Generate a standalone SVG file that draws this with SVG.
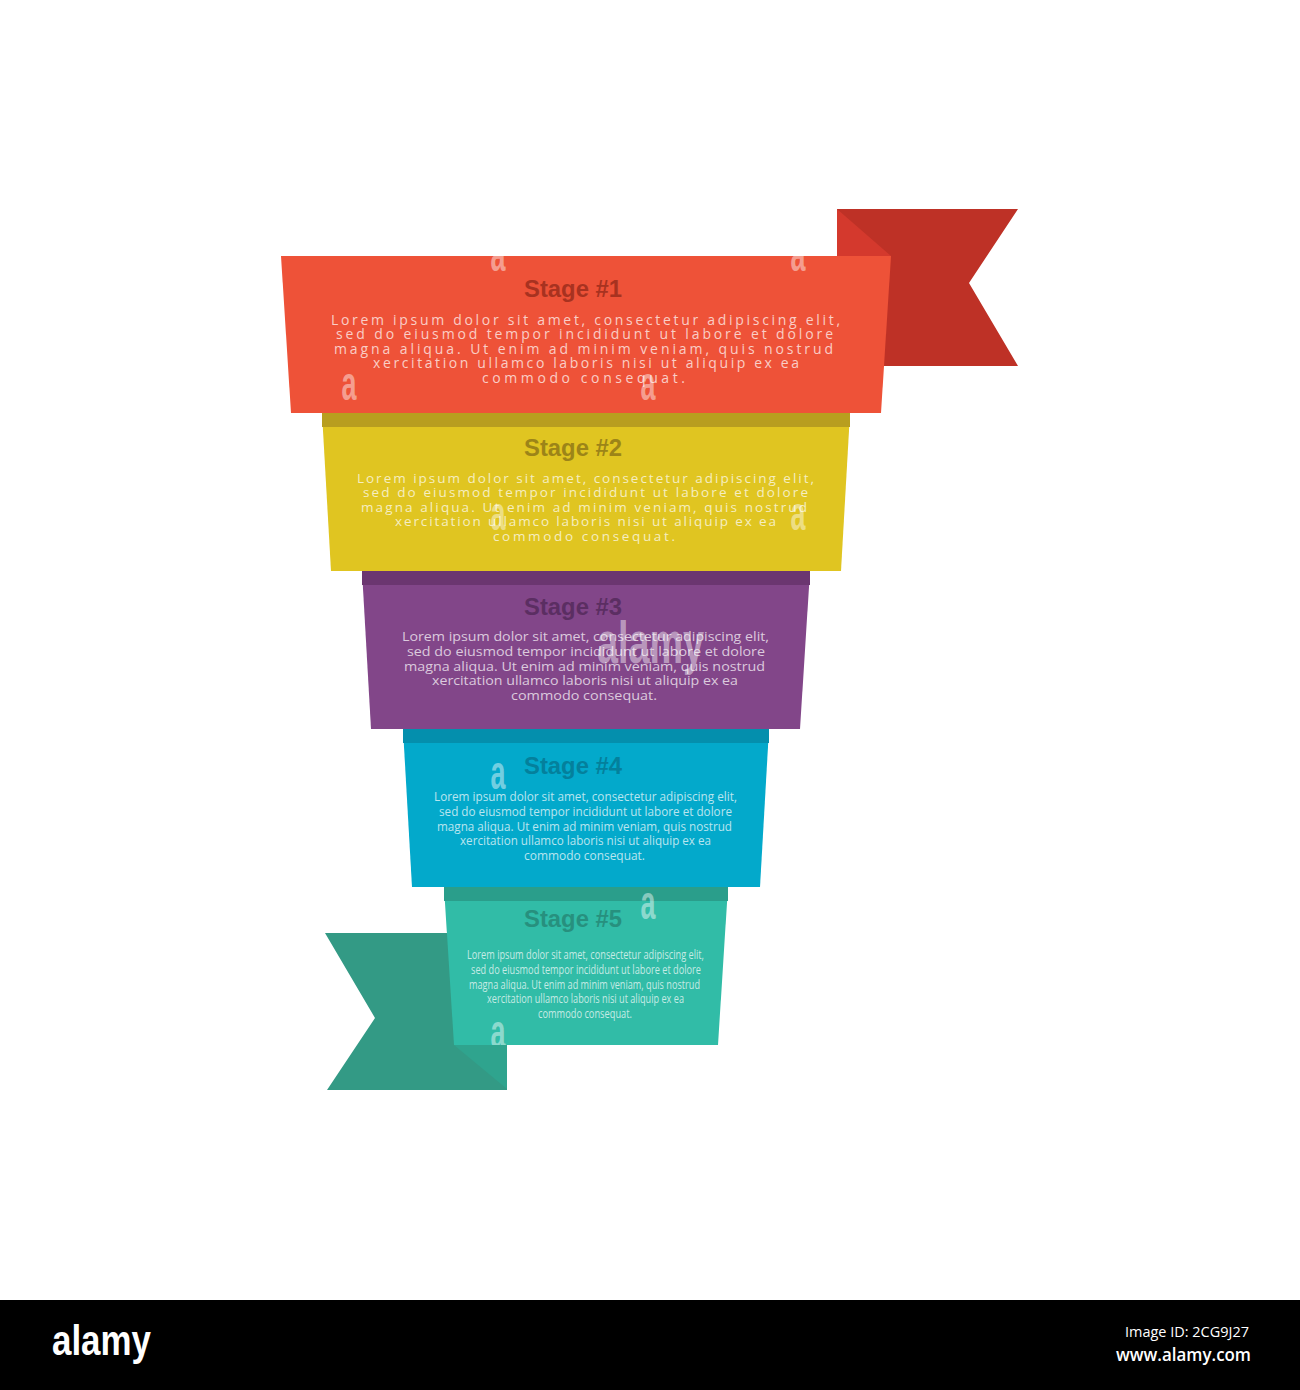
<svg xmlns="http://www.w3.org/2000/svg" width="1300" height="1390" viewBox="0 0 1300 1390">
<style>
.title{font-family:"Liberation Sans",Arial,sans-serif;font-weight:bold;font-size:23px;text-anchor:middle}
.body{font-family:"Open Sans","Noto Sans",sans-serif;text-anchor:middle;fill:#ffffff;fill-opacity:0.72}
.wm{font-family:"Liberation Sans Narrow","Liberation Sans",Arial,sans-serif;font-weight:bold;fill:#ffffff;fill-opacity:0.45;text-anchor:middle}
</style>
<rect x="0" y="0" width="1300" height="1390" fill="#ffffff"/>

<g id="flag-top">
<polygon points="837,209 1018,209 969,283 1018,366 870,366 870,256 837,256" fill="#BE3126"/>
<polygon points="837,209 891,256 837,256" fill="#D4392D"/>
</g>
<g id="flag-bottom">
<polygon points="325,933 470,933 470,1045 507,1045 507,1090 327,1090 375,1018" fill="#339A85"/>
<polygon points="454,1045 507,1045 507,1089" fill="#2FA48E"/>
</g>

<g id="connectors"></g>

<g id="stage5" font-size="12">
<polygon points="444,887 728,887 718,1045 454,1045" fill="#31BCA7"/>
<rect x="444" y="887" width="284" height="14" fill="#2A9E8B"/>
<text class="title" x="573" y="927" fill="#27907E" textLength="98" lengthAdjust="spacingAndGlyphs">Stage #5</text>
<text class="body" x="585.5" y="959" textLength="237" lengthAdjust="spacingAndGlyphs">Lorem ipsum dolor sit amet, consectetur adipiscing elit,</text>
<text class="body" x="586" y="974" textLength="230" lengthAdjust="spacingAndGlyphs">sed do eiusmod tempor incididunt ut labore et dolore</text>
<text class="body" x="584.5" y="989" textLength="231" lengthAdjust="spacingAndGlyphs">magna aliqua. Ut enim ad minim veniam, quis nostrud</text>
<text class="body" x="585.5" y="1003" textLength="197" lengthAdjust="spacingAndGlyphs">xercitation ullamco laboris nisi ut aliquip ex ea</text>
<text class="body" x="585" y="1018" textLength="94" lengthAdjust="spacingAndGlyphs">commodo consequat.</text>
</g>

<g id="stage4" font-size="12.5">
<polygon points="403,729 769,729 760,887 412,887" fill="#03A9CB"/>
<rect x="403" y="729" width="366" height="14" fill="#048FAD"/>
<text class="title" x="573" y="774" fill="#04809C" textLength="98" lengthAdjust="spacingAndGlyphs">Stage #4</text>
<text class="body" x="585.5" y="801" textLength="303" lengthAdjust="spacingAndGlyphs">Lorem ipsum dolor sit amet, consectetur adipiscing elit,</text>
<text class="body" x="585.5" y="816" textLength="293" lengthAdjust="spacingAndGlyphs">sed do eiusmod tempor incididunt ut labore et dolore</text>
<text class="body" x="584.5" y="831" textLength="295" lengthAdjust="spacingAndGlyphs">magna aliqua. Ut enim ad minim veniam, quis nostrud</text>
<text class="body" x="585.5" y="845" textLength="251" lengthAdjust="spacingAndGlyphs">xercitation ullamco laboris nisi ut aliquip ex ea</text>
<text class="body" x="584.5" y="860" textLength="121" lengthAdjust="spacingAndGlyphs">commodo consequat.</text>
</g>

<g id="stage3" font-size="13">
<polygon points="362,571 810,571 800,729 371,729" fill="#824689"/>
<rect x="362" y="571" width="448" height="14" fill="#6B3670"/>
<text class="title" x="573" y="615" fill="#5B2E62" textLength="98" lengthAdjust="spacingAndGlyphs">Stage #3</text>
<text class="body" x="585.5" y="641" textLength="367" lengthAdjust="spacingAndGlyphs">Lorem ipsum dolor sit amet, consectetur adipiscing elit,</text>
<text class="body" x="586" y="656" textLength="358" lengthAdjust="spacingAndGlyphs">sed do eiusmod tempor incididunt ut labore et dolore</text>
<text class="body" x="584.5" y="671" textLength="361" lengthAdjust="spacingAndGlyphs">magna aliqua. Ut enim ad minim veniam, quis nostrud</text>
<text class="body" x="585" y="685" textLength="306" lengthAdjust="spacingAndGlyphs">xercitation ullamco laboris nisi ut aliquip ex ea</text>
<text class="body" x="584" y="700" textLength="146" lengthAdjust="spacingAndGlyphs">commodo consequat.</text>
</g>

<g id="stage2" font-size="13.5">
<polygon points="322,413 850,413 841,571 331,571" fill="#E0C521"/>
<rect x="322" y="413" width="528" height="14" fill="#B89E1F"/>
<text class="title" x="573" y="456" fill="#9C8418" textLength="98" lengthAdjust="spacingAndGlyphs">Stage #2</text>
<text class="body" x="585.5" y="483" textLength="457" lengthAdjust="spacing">Lorem ipsum dolor sit amet, consectetur adipiscing elit,</text>
<text class="body" x="585.5" y="497" textLength="445" lengthAdjust="spacing">sed do eiusmod tempor incididunt ut labore et dolore</text>
<text class="body" x="584" y="512" textLength="446" lengthAdjust="spacing">magna aliqua. Ut enim ad minim veniam, quis nostrud</text>
<text class="body" x="585.5" y="526" textLength="381" lengthAdjust="spacing">xercitation ullamco laboris nisi ut aliquip ex ea</text>
<text class="body" x="584" y="541" textLength="182" lengthAdjust="spacing">commodo consequat.</text>
</g>

<g id="stage1" font-size="14">
<polygon points="281,256 891,256 881,413 291,413" fill="#EE5238"/>
<text class="title" x="573" y="297" fill="#A83220" textLength="98" lengthAdjust="spacingAndGlyphs">Stage #1</text>
<text class="body" x="585.5" y="325" textLength="509" lengthAdjust="spacing">Lorem ipsum dolor sit amet, consectetur adipiscing elit,</text>
<text class="body" x="584.5" y="339" textLength="497" lengthAdjust="spacing">sed do eiusmod tempor incididunt ut labore et dolore</text>
<text class="body" x="583.5" y="354" textLength="499" lengthAdjust="spacing">magna aliqua. Ut enim ad minim veniam, quis nostrud</text>
<text class="body" x="586" y="368" textLength="426" lengthAdjust="spacing">xercitation ullamco laboris nisi ut aliquip ex ea</text>
<text class="body" x="583.5" y="383" textLength="203" lengthAdjust="spacing">commodo consequat.</text>
</g>

<g id="watermark">
<clipPath id="bands">
<polygon points="281,256 891,256 881,413 291,413"/>
<polygon points="322,413 850,413 841,571 331,571"/>
<polygon points="362,571 810,571 800,729 371,729"/>
<polygon points="403,729 769,729 760,887 412,887"/>
<polygon points="444,887 728,887 718,1045 454,1045"/>
</clipPath>
<g clip-path="url(#bands)">
<text class="wm" x="498" y="271" font-size="48" textLength="15" lengthAdjust="spacingAndGlyphs">a</text>
<text class="wm" x="798" y="271" font-size="48" textLength="15" lengthAdjust="spacingAndGlyphs">a</text>
<text class="wm" x="349" y="400" font-size="48" textLength="15" lengthAdjust="spacingAndGlyphs">a</text>
<text class="wm" x="648" y="400" font-size="48" textLength="15" lengthAdjust="spacingAndGlyphs">a</text>
<text class="wm" x="498" y="530" font-size="48" textLength="15" lengthAdjust="spacingAndGlyphs">a</text>
<text class="wm" x="798" y="530" font-size="48" textLength="15" lengthAdjust="spacingAndGlyphs">a</text>
<text class="wm" x="498" y="789" font-size="48" textLength="15" lengthAdjust="spacingAndGlyphs">a</text>
<text class="wm" x="648" y="919" font-size="48" textLength="15" lengthAdjust="spacingAndGlyphs">a</text>
<text class="wm" x="498" y="1048" font-size="48" textLength="15" lengthAdjust="spacingAndGlyphs">a</text>
</g>
<text class="wm" x="650.5" y="663" font-size="60" textLength="107" lengthAdjust="spacingAndGlyphs">alamy</text>
</g>

<g id="footer">
<rect x="0" y="1300" width="1300" height="90" fill="#000000"/>
<text x="52" y="1355" font-family="'Liberation Sans Narrow','Liberation Sans',Arial,sans-serif" font-weight="bold" font-size="42" fill="#ffffff" textLength="99" lengthAdjust="spacingAndGlyphs">alamy</text>
<text x="1249" y="1337" font-family="'Open Sans','Noto Sans',sans-serif" font-size="14" fill="#ffffff" text-anchor="end" textLength="124" lengthAdjust="spacingAndGlyphs">Image ID: 2CG9J27</text>
<text x="1251" y="1361" font-family="'Open Sans','Noto Sans',sans-serif" font-weight="600" font-size="18" fill="#ffffff" text-anchor="end" textLength="135" lengthAdjust="spacingAndGlyphs">www.alamy.com</text>
</g>
</svg>
